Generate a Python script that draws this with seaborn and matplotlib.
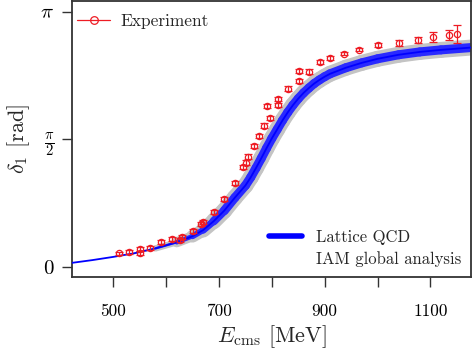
"""
Rho-channel P-wave phase shift: experiment vs lattice QCD / IAM band
"""

import numpy as np
import matplotlib
matplotlib.use("Agg")
import matplotlib.pyplot as plt
from matplotlib.collections import LineCollection
from matplotlib.lines import Line2D
import seaborn as sns
import pandas as pd

sns.set_style("ticks")
plt.rcParams['font.family'] = ['cmr10', 'DejaVu Serif']
plt.rcParams['mathtext.fontset'] = 'cm'
plt.rcParams['axes.formatter.use_mathtext'] = True

# experimental points (E in MeV, delta in rad, error)
exp_E = [511, 530, 550, 550, 569, 590, 611, 626, 630, 651, 666, 670, 691,
         710, 730, 745, 751, 755, 766, 776, 785, 797, 791, 812, 812, 831,
         851, 851, 870, 891, 910, 937, 965, 1001, 1041, 1077, 1105, 1136, 1151]
exp_delta = [0.163, 0.181, 0.218, 0.169, 0.230, 0.304, 0.341, 0.329, 0.366,
             0.440, 0.526, 0.551, 0.674, 0.834, 1.031, 1.228, 1.278, 1.352,
             1.487, 1.610, 1.734, 1.832, 1.980, 1.992, 2.066, 2.189, 2.288,
             2.411, 2.399, 2.522, 2.571, 2.621, 2.670, 2.732, 2.757, 2.794,
             2.831, 2.855, 2.868]
exp_err = [0.02, 0.02, 0.025, 0.02, 0.02, 0.02, 0.02, 0.02, 0.025, 0.02,
           0.02, 0.02, 0.025, 0.025, 0.025, 0.025, 0.03, 0.03, 0.025, 0.025,
           0.03, 0.025, 0.025, 0.025, 0.025, 0.03, 0.02, 0.025, 0.03, 0.02,
           0.02, 0.02, 0.02, 0.025, 0.035, 0.04, 0.06, 0.065, 0.11]

# lattice QCD / IAM central curve
lat_E = [420, 460, 500, 540, 580, 620, 650, 670, 690, 710, 730, 750, 760,
         770, 780, 790, 800, 810, 820, 830, 840, 850, 860, 870, 880, 890,
         900, 910, 940, 970, 1000, 1040, 1080, 1120, 1180]
lat_delta = [0.045, 0.08, 0.12, 0.165, 0.225, 0.30, 0.375, 0.45, 0.56, 0.69,
             0.85, 1.00, 1.10, 1.215, 1.335, 1.46, 1.58, 1.69, 1.80, 1.90,
             1.99, 2.07, 2.14, 2.20, 2.255, 2.30, 2.34, 2.375, 2.45, 2.51,
             2.56, 2.61, 2.645, 2.67, 2.70]

x_ticks = [500, 600, 700, 800, 900, 1000, 1100]
x_ticklabels = ['500', '', '700', '', '900', '', '1100']
y_ticks = [0, np.pi / 2, np.pi]
y_ticklabels = ['0', r'$\frac{\pi}{2}$', r'$\pi$']

RED = '#ee1c24'
BLUE = '#0000ff'

fig = plt.figure(figsize=(4.74, 3.51), dpi=100)
ax = fig.add_axes([0.152, 0.211, 0.842, 0.785])

lat = pd.DataFrame({'E': lat_E, 'delta': lat_delta})
pts = np.column_stack([lat['E'], lat['delta']])
segs = np.stack([pts[:-1], pts[1:]], axis=1)
mid = 0.5 * (pts[:-1, 0] + pts[1:, 0])

# grey outer band, blue inner band (tapering towards low energy)
grey_w = 11.5 * np.clip((mid - 540) / 150, 0, 1)
blue_w = 6.5 * np.clip((mid - 560) / 150, 0, 1)
ax.add_collection(LineCollection(segs, linewidths=grey_w, colors='#c4c4c4',
                                 capstyle='round', joinstyle='round', zorder=1))
ax.add_collection(LineCollection(segs, linewidths=blue_w, colors='#2a2aff',
                                 capstyle='round', joinstyle='round', zorder=2))
sns.lineplot(data=lat, x='E', y='delta', color=BLUE, lw=1.3, ax=ax,
             zorder=3, sort=True)

ax.errorbar(exp_E, exp_delta, yerr=exp_err, fmt='o', ms=4.5, mfc='none',
            mec=RED, mew=0.9, ecolor=RED, elinewidth=0.9, capsize=2.8,
            capthick=0.9, zorder=4)

ax.set_xlim(422, 1177)
ax.set_ylim(-0.127, 3.267)
ax.set_xticks(x_ticks)
ax.set_xticklabels(x_ticklabels, fontsize=12.5)
ax.set_yticks(y_ticks)
ax.set_yticklabels(y_ticklabels, fontsize=15)
ax.tick_params(axis='x', length=7, width=1, colors='#333333', pad=12.5,
               labelcolor='black')
ax.tick_params(axis='y', length=7, width=1, colors='#333333', pad=6,
               labelcolor='black')
for sp in ax.spines.values():
    sp.set_color('#333333')
    sp.set_linewidth(1.3)

ax.set_xlabel(r'$E_{\mathrm{cms}}$ [MeV]', fontsize=16, labelpad=2.5)
ax.set_ylabel(r'$\delta_1$ [rad]', fontsize=16, labelpad=6)

# legends
h_exp = Line2D([], [], color=RED, lw=0.9, marker='o', ms=5.5, mfc='none',
               mec=RED, mew=0.9)
leg1 = ax.legend([h_exp], ['Experiment'], loc='upper left', frameon=False,
                 fontsize=12.5, handlelength=1.9, handletextpad=0.6,
                 bbox_to_anchor=(0.0, 0.975), borderaxespad=0.1,
                 borderpad=0.2)
ax.add_artist(leg1)

h_lat = Line2D([], [], color=BLUE, lw=4)
h_none = Line2D([], [], color='none', lw=0)
ax.legend([h_lat, h_none], ['Lattice QCD', 'IAM global analysis'],
          loc='lower right', frameon=False, fontsize=12, handlelength=2.0,
          handletextpad=0.8, labelspacing=0.35, borderaxespad=0.4,
          borderpad=0.2)

plt.savefig('out.png', dpi=100)
plt.close()
